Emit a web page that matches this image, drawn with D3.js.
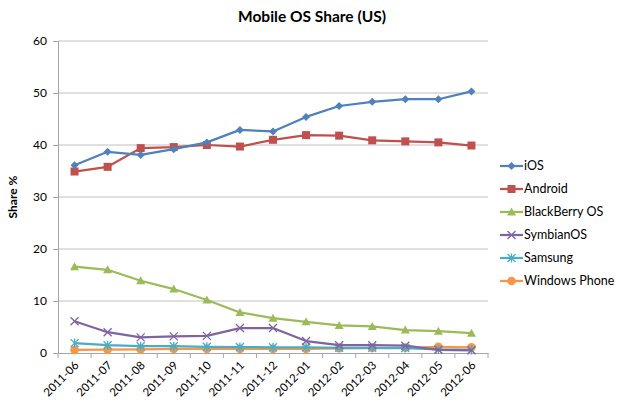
<!DOCTYPE html>
<html>
<head>
<meta charset="utf-8">
<script src="https://cdn.jsdelivr.net/npm/d3@7"></script>
<style>
body { margin: 0; background: #fff; }
text { font-family: Lato, "Open Sans", sans-serif; }
</style>
</head>
<body>
<script>
let months = ["2011-06","2011-07","2011-08","2011-09","2011-10","2011-11","2011-12","2012-01","2012-02","2012-03","2012-04","2012-05","2012-06"]
let yTicks = [0,10,20,30,40,50,60]
let ios = [36.1,38.7,38.1,39.2,40.5,42.9,42.6,45.4,47.5,48.3,48.8,48.8,50.3]
let android = [34.9,35.8,39.4,39.6,40.0,39.7,41.0,41.9,41.8,40.9,40.7,40.5,39.9]
let blackberry = [16.6,16.0,13.9,12.3,10.2,7.8,6.7,6.0,5.3,5.1,4.4,4.2,3.8]
let symbian = [6.1,4.0,3.0,3.2,3.3,4.8,4.8,2.3,1.5,1.5,1.4,0.6,0.5]
let samsung = [1.9,1.5,1.3,1.3,1.2,1.15,1.1,1.1,1.0,1.0,0.95,0.7,0.6]
let windows = [0.6,0.65,0.7,0.8,0.8,0.8,0.8,0.8,0.9,0.95,1.0,1.2,1.1]

let series = [
    {name:"iOS", values:ios, color:"#4F81BD", mark:"diamond"},
    {name:"Android", values:android, color:"#C0504D", mark:"square"},
    {name:"BlackBerry OS", values:blackberry, color:"#9BBB59", mark:"triangle"},
    {name:"SymbianOS", values:symbian, color:"#8064A2", mark:"x"},
    {name:"Samsung", values:samsung, color:"#4BACC6", mark:"star"},
    {name:"Windows Phone", values:windows, color:"#F79646", mark:"circle"}
]

let w = 623
let h = 411
let pLeft = 58, pRight = 488, pTop = 41, pBottom = 353

let svg = d3.select("body").append("svg").attr("width", w).attr("height", h)

let x = d3.scaleBand().domain(months).range([pLeft, pRight])
let y = d3.scaleLinear().domain([0, 60]).range([pBottom, pTop])

// gridlines
svg.append("g").selectAll("line").data(yTicks.slice(1)).enter().append("line")
    .attr("x1", pLeft).attr("x2", pRight)
    .attr("y1", d=>y(d)).attr("y2", d=>y(d))
    .attr("stroke", "#c0c0c0").attr("stroke-width", 1)

// y axis
let yAxis = svg.append("g").attr("transform", `translate(${pLeft},0)`)
    .call(d3.axisLeft(y).tickValues(yTicks).tickSize(5).tickPadding(6))
yAxis.select(".domain").attr("stroke", "#a6a6a6")
yAxis.selectAll(".tick line").attr("stroke", "#a6a6a6")
yAxis.selectAll("text").attr("font-size", 12).attr("fill", "#000")

// x axis
let xAxis = svg.append("g").attr("transform", `translate(0,${pBottom})`)
    .call(d3.axisBottom(x).tickSize(0).tickFormat(""))
xAxis.select(".domain").attr("stroke", "#a6a6a6")
let edges = months.map(m=>x(m)).concat([pRight])
svg.append("g").selectAll("line").data(edges).enter().append("line")
    .attr("x1", d=>d).attr("x2", d=>d)
    .attr("y1", pBottom).attr("y2", pBottom + 5)
    .attr("stroke", "#a6a6a6")
svg.append("g").selectAll("text").data(months).enter().append("text")
    .attr("transform", d=>`translate(${x(d) + x.bandwidth()/2 + 5},${pBottom + 13}) rotate(-45)`)
    .attr("text-anchor", "end")
    .attr("font-size", 11.5)
    .text(d=>d)

// title and axis label
svg.append("text").attr("x", 312).attr("y", 22).attr("text-anchor", "middle")
    .attr("font-size", 15.5).attr("font-weight", "bold").text("Mobile OS Share (US)")
svg.append("text").attr("transform", `translate(17,${(pTop+pBottom)/2}) rotate(-90)`)
    .attr("text-anchor", "middle").attr("font-size", 12).attr("font-weight", "bold").text("Share %")

function marker(g, type, color) {
    if (type == "diamond") g.append("path").attr("d", "M0,-4L4,0L0,4L-4,0Z").attr("fill", color)
    if (type == "square") g.append("rect").attr("x", -4).attr("y", -4).attr("width", 8).attr("height", 8).attr("fill", color)
    if (type == "triangle") g.append("path").attr("d", "M0,-4.5L4.5,3.5L-4.5,3.5Z").attr("fill", color)
    if (type == "circle") g.append("circle").attr("r", 4.3).attr("fill", color)
    if (type == "x") g.append("path").attr("d", "M-4,-4L4,4M-4,4L4,-4").attr("stroke", color).attr("stroke-width", 1.3).attr("fill", "none")
    if (type == "star") g.append("path").attr("d", "M-4,-4L4,4M-4,4L4,-4M0,-4.5L0,4.5").attr("stroke", color).attr("stroke-width", 1.3).attr("fill", "none")
}

let line = d3.line().x((d,i)=>x(months[i]) + x.bandwidth()/2).y(d=>y(d))

let order = series.slice().reverse()
order.forEach(s=>{
    let g = svg.append("g")
    g.append("path").datum(s.values).attr("d", line)
        .attr("fill", "none").attr("stroke", s.color).attr("stroke-width", 2.25)
        .attr("stroke-linejoin", "round")
    s.values.forEach((v,i)=>{
        let m = g.append("g").attr("transform", `translate(${x(months[i]) + x.bandwidth()/2},${y(v)})`)
        marker(m, s.mark, s.color)
    })
})

// legend
let legend = svg.append("g")
series.forEach((s,i)=>{
    let ly = 166 + i*23
    legend.append("line").attr("x1", 500).attr("x2", 523).attr("y1", ly).attr("y2", ly)
        .attr("stroke", s.color).attr("stroke-width", 2.25)
    let m = legend.append("g").attr("transform", `translate(511.5,${ly})`)
    marker(m, s.mark, s.color)
    legend.append("text").attr("x", 524).attr("y", ly + 4).attr("font-size", 12.5).text(s.name)
})
</script>
</body>
</html>
